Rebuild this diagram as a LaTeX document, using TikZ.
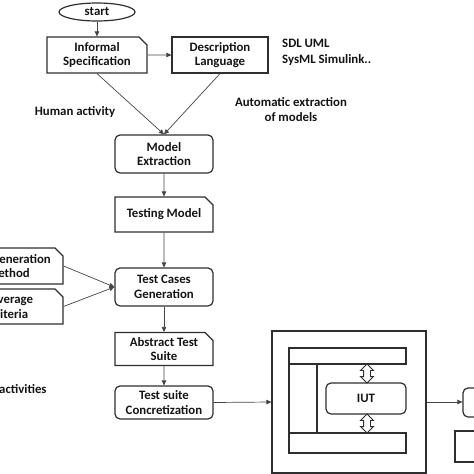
\documentclass[tikz,border=0pt]{standalone}
\usepackage{fontspec}
\setmainfont{Carlito}
\usetikzlibrary{arrows.meta,shapes.geometric,shapes.misc,shapes.arrows,calc}
\definecolor{boxc}{HTML}{2E2E2E}
\definecolor{arrc}{HTML}{444444}
\definecolor{txt}{HTML}{141414}
\begin{document}
\begin{tikzpicture}[x=1pt,y=-1pt,
  font=\bfseries\fontsize{12.8}{14.8}\selectfont,
  box/.style={draw=boxc, line width=1.2pt, inner sep=0pt, align=center, text=txt},
  rbox/.style={box, rounded corners=5pt},
  cbox/.style={box, chamfered rectangle, chamfered rectangle corners=north east,
    chamfered rectangle xsep=3.5pt, chamfered rectangle ysep=4.5pt},
  conn/.style={draw=arrc, line width=0.7pt, -{Triangle[length=5pt,width=4.5pt]}},
  lbl/.style={text=txt, inner sep=0pt, align=center},
  dbl/.style={draw=boxc, line width=0.9pt, double arrow, rotate=90, inner xsep=0pt,
    inner ysep=3pt, minimum height=19pt, double arrow head extend=3pt}]
\useasboundingbox (0,0) rectangle (474,474);

\node[box, ellipse, minimum width=76pt, minimum height=18pt] (start) at (97,12) {start};
\node[cbox, minimum width=100pt, minimum height=36pt] (inf) at (97,55) {Informal\\Specification};
\node[box, minimum width=96pt, minimum height=36pt] (desc) at (220,55) {Description\\Language};
\node[lbl, align=left, font=\bfseries\fontsize{12.8}{16.5}\selectfont, anchor=west] (sdl) at (282,52.5) {SDL UML\\SysML Simulink..};
\node[lbl] (human) at (75,112) {Human activity};
\node[lbl] (auto) at (291,109.5) {Automatic extraction\\of models};

\node[rbox, minimum width=98pt, minimum height=38pt] (me) at (164,154) {Model\\Extraction};
\node[cbox, minimum width=98pt, minimum height=35pt] (tm) at (164,214.5) {Testing Model};
\node[rbox, minimum width=98pt, minimum height=38pt] (tcg) at (164,287) {Test Cases\\Generation};
\node[cbox, minimum width=109pt, minimum height=36pt] (gm) at (8.5,266) {\hspace*{25pt}Generation\\Method};
\node[cbox, minimum width=109pt, minimum height=35pt] (cc) at (8.5,306.5) {Coverage\\Criteria};
\node[cbox, minimum width=98pt, minimum height=32pt] (ats) at (164,349) {Abstract Test\\Suite};
\node[rbox, minimum width=98pt, minimum height=33pt] (tsc) at (164,402.5) {Test suite\\Concretization};
\node[lbl, anchor=west] (act) at (-1,389) {activities};

\node[box, minimum width=154pt, minimum height=142pt] (big) at (349,402) {};
\node[box, minimum width=117pt, minimum height=16pt] (topbar) at (347.5,356) {};
\node[box, minimum width=117pt, minimum height=20pt] (botbar) at (347.5,443) {};
\node[box, minimum width=28pt, minimum height=69pt] (leftbar) at (303,398.5) {};
\node[rbox, minimum width=80pt, minimum height=31pt] (iut) at (366,398.5) {IUT};
\node[dbl] (d1) at (367,373.5) {};
\node[dbl] (d2) at (367,423.5) {};

\node[rbox, minimum width=47pt, minimum height=29pt] (rb1) at (486.5,402.5) {};
\node[box, minimum width=55pt, minimum height=31pt] (rb2) at (482.5,446.5) {};

\draw[conn] (start) -- (inf);
\draw[conn] (inf) -- (desc);
\draw[conn] (inf.south) -- (me.north);
\draw[conn] (desc.south) -- (me.north);
\draw[conn] (me) -- (tm);
\draw[conn] (tm) -- (tcg);
\draw[conn] (gm.east) -- (tcg.west);
\draw[conn] (cc.east) -- (tcg.west);
\draw[conn] (tcg) -- (ats);
\draw[conn] (ats) -- (tsc);
\draw[conn] (tsc.east) -- (big.west);
\draw[conn] (big.east) -- (big.east -| rb1.west);
\end{tikzpicture}
\end{document}
